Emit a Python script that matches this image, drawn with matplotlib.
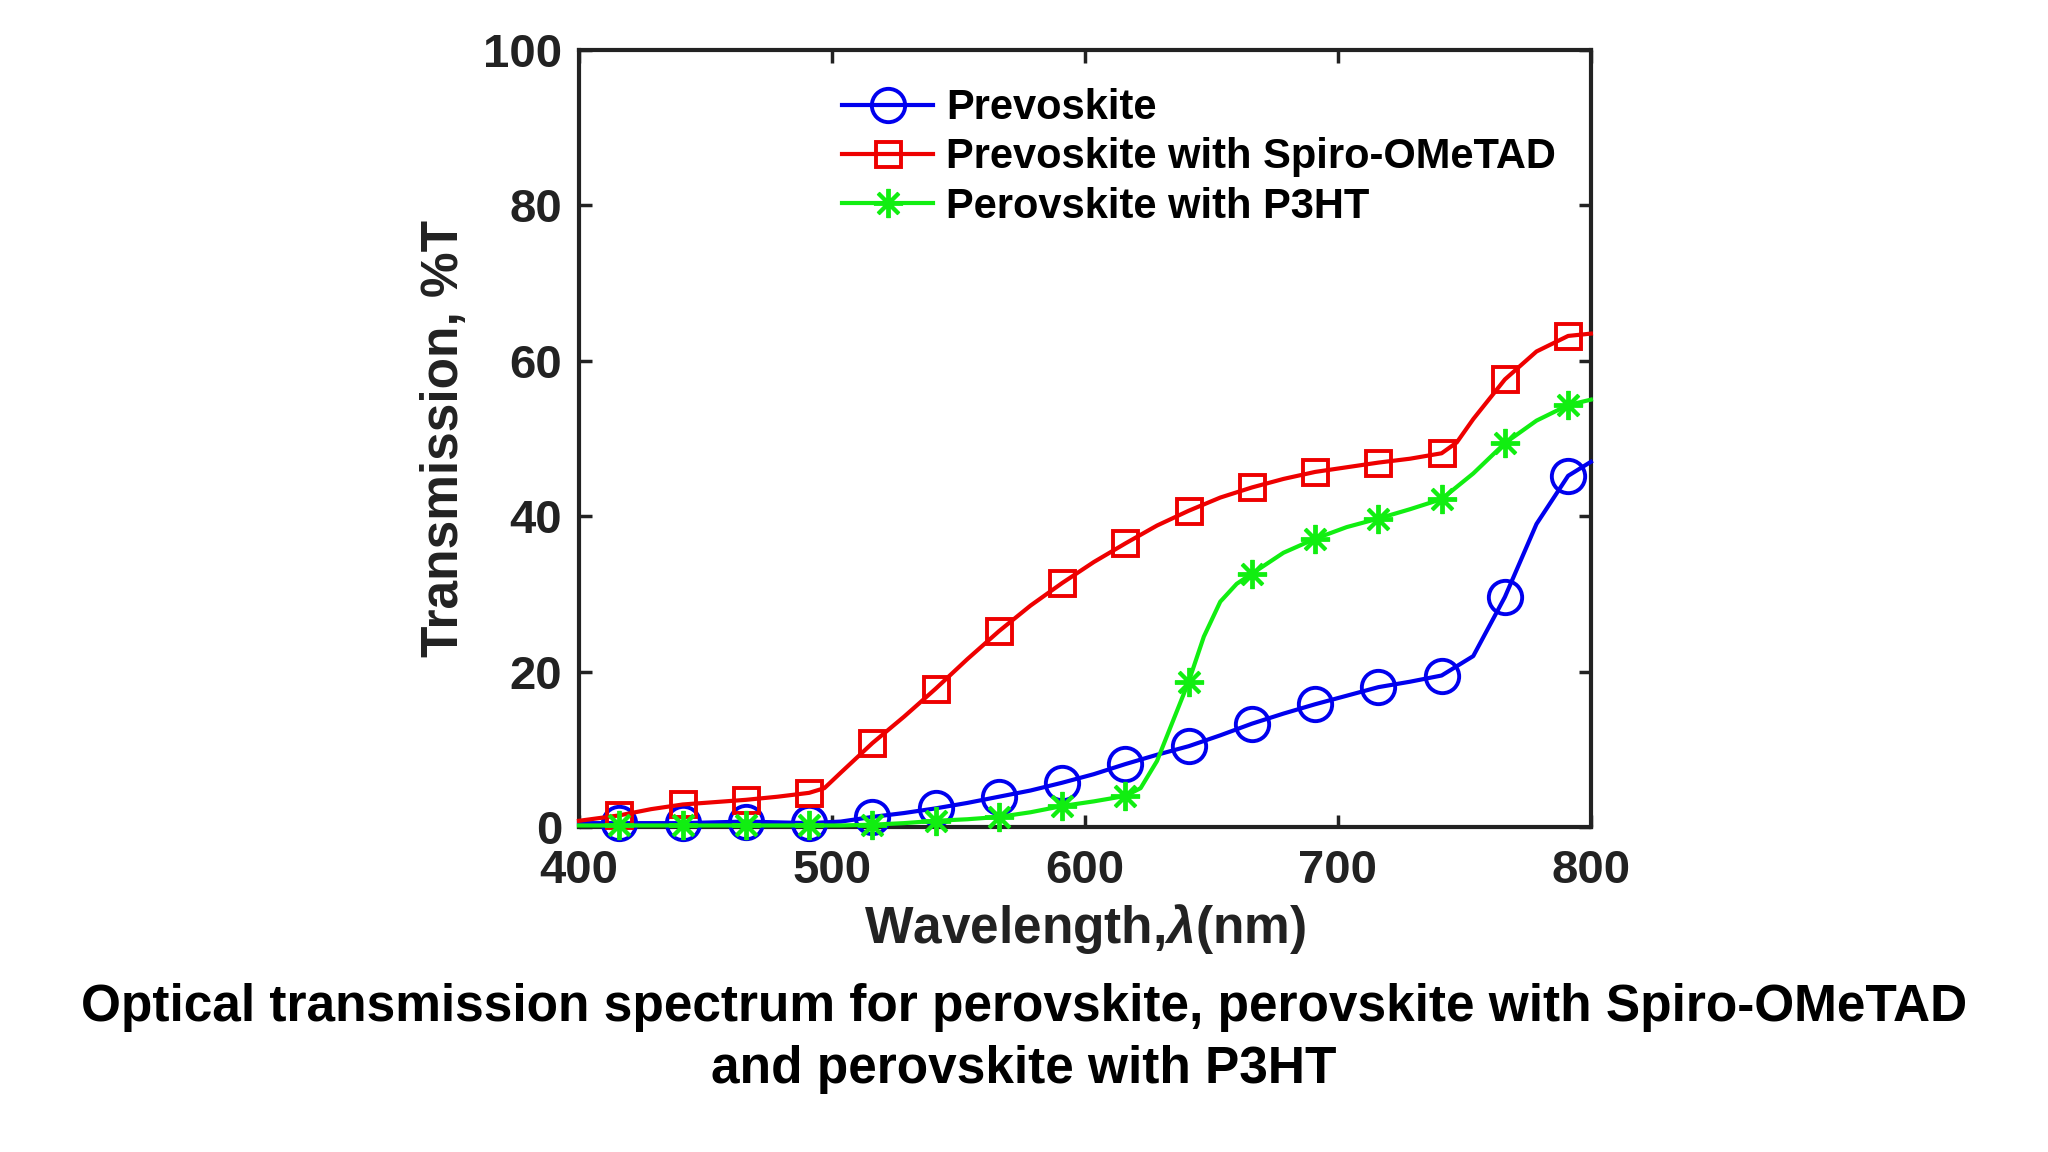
import numpy as np
import matplotlib
matplotlib.use("Agg")
import matplotlib.pyplot as plt

plt.rcParams["font.family"] = ["Liberation Sans", "DejaVu Sans"]
plt.rcParams["font.weight"] = "bold"
plt.rcParams["mathtext.fontset"] = "custom"
plt.rcParams["mathtext.it"] = "Liberation Sans:italic:bold"

# marker wavelengths (nm)
marker_nm = [416, 441, 466, 491, 516, 541, 566, 591, 616, 641, 666, 691, 716, 741, 766, 791]

# Prevoskite (blue, circles)
blue_nm = [400, 416, 428.5, 441, 453.5, 466, 478.5, 491, 503.5, 516, 528.5, 541, 553.5, 566, 578.5,
           591, 603.5, 616, 628.5, 641, 653.5, 666, 678.5, 691, 703.5, 716, 728.5, 741, 753.5,
           766, 778.5, 791, 800]
blue_T = [0.5, 0.5, 0.5, 0.5, 0.6, 0.7, 0.6, 0.5, 0.7, 1.3, 1.8, 2.4, 3.1, 3.9, 4.7,
          5.7, 6.8, 8.1, 9.3, 10.4, 11.8, 13.3, 14.6, 15.8, 16.9, 18.0, 18.7, 19.5, 22.0,
          29.6, 39.0, 45.2, 47.0]

# Prevoskite with Spiro-OMeTAD (red, squares)
red_nm = [400, 416, 428.5, 441, 453.5, 466, 478.5, 491, 497, 503.5, 516, 528.5, 541, 553.5, 566,
          578.5, 591, 603.5, 616, 628.5, 641, 653.5, 666, 678.5, 691, 703.5, 716, 728.5, 741,
          747, 753.5, 766, 778.5, 791, 800]
red_T = [0.8, 1.5, 2.3, 2.9, 3.2, 3.5, 3.9, 4.4, 5.0, 7.0, 10.8, 14.2, 17.8, 21.6, 25.2,
         28.5, 31.4, 34.1, 36.5, 38.8, 40.7, 42.4, 43.7, 44.8, 45.7, 46.3, 46.9, 47.4, 48.1,
         49.5, 52.5, 57.6, 61.2, 63.2, 63.5]

# Perovskite with P3HT (green, asterisks)
green_nm = [400, 416, 441, 466, 491, 503.5, 516, 528.5, 541, 553.5, 566, 578.5, 591, 603.5, 616,
            622, 628.5, 634, 641, 647, 653.5, 660, 666, 678.5, 691, 703.5, 716, 728.5, 741,
            753.5, 766, 778.5, 791, 800]
green_T = [0.2, 0.2, 0.2, 0.2, 0.2, 0.2, 0.3, 0.5, 0.8, 1.0, 1.3, 1.9, 2.7, 3.3, 4.0,
           5.0, 8.5, 13.0, 18.7, 24.5, 29.0, 31.3, 32.6, 35.3, 37.1, 38.6, 39.7, 40.9, 42.2,
           45.5, 49.4, 52.3, 54.3, 55.0]

labels = ["Prevoskite", "Prevoskite with Spiro-OMeTAD", "Perovskite with P3HT"]

fig = plt.figure(figsize=(20.48, 11.52), dpi=100)
ax = fig.add_axes([0.2827, 0.2821, 0.4941, 0.6745])

series = [
    (blue_nm, blue_T, "#0000ee", "o", 24),
    (red_nm, red_T, "#ee0000", "s", 18),
    (green_nm, green_T, "#11ee11", (8, 2, 0), 21),
]
for (xs, ys, col, mk, ms), lab in zip(series, labels):
    xs = np.asarray(xs)
    idx = list(np.where(np.isin(xs, marker_nm))[0])
    ax.plot(xs, ys, color=col, lw=3, marker=mk, ms=ms, mfc="none", mec=col, mew=2.8,
            markevery=idx, label=lab, clip_on=False, zorder=3)

ax.set_xlim(400, 800)
ax.set_ylim(0, 100)
ax.set_xticks([400, 500, 600, 700, 800])
ax.set_yticks([0, 20, 40, 60, 80, 100])
txt = "#222222"
ax.tick_params(direction="in", length=9, width=2.5, labelsize=34, colors=txt,
               top=True, right=True, pad=12)
ax.tick_params(axis="x", pad=16)
for s in ax.spines.values():
    s.set_linewidth(3)
    s.set_color("#222222")

ax.set_xlabel(r"Wavelength,$\it{\lambda}$(nm)", fontsize=37, fontweight="bold", color=txt, labelpad=6)
ax.set_ylabel("Transmission, %T", fontsize=37, fontweight="bold", color=txt, labelpad=10)

leg = ax.legend(loc="upper left", bbox_to_anchor=(0.235, 0.983), frameon=False, fontsize=30,
                handlelength=2.2, handletextpad=0.3, labelspacing=0.22, borderaxespad=0.2)
for t in leg.get_texts():
    t.set_color("black")

fig.text(0.5, 1 - 1008 / 1152,
         "Optical transmission spectrum for perovskite, perovskite with Spiro-OMeTAD",
         ha="center", va="center", fontsize=37, fontweight="bold", color="black")
fig.text(0.5, 1 - 1070 / 1152, "and perovskite with P3HT",
         ha="center", va="center", fontsize=37, fontweight="bold", color="black")

fig.savefig("out.png", dpi=100)
plt.close(fig)
